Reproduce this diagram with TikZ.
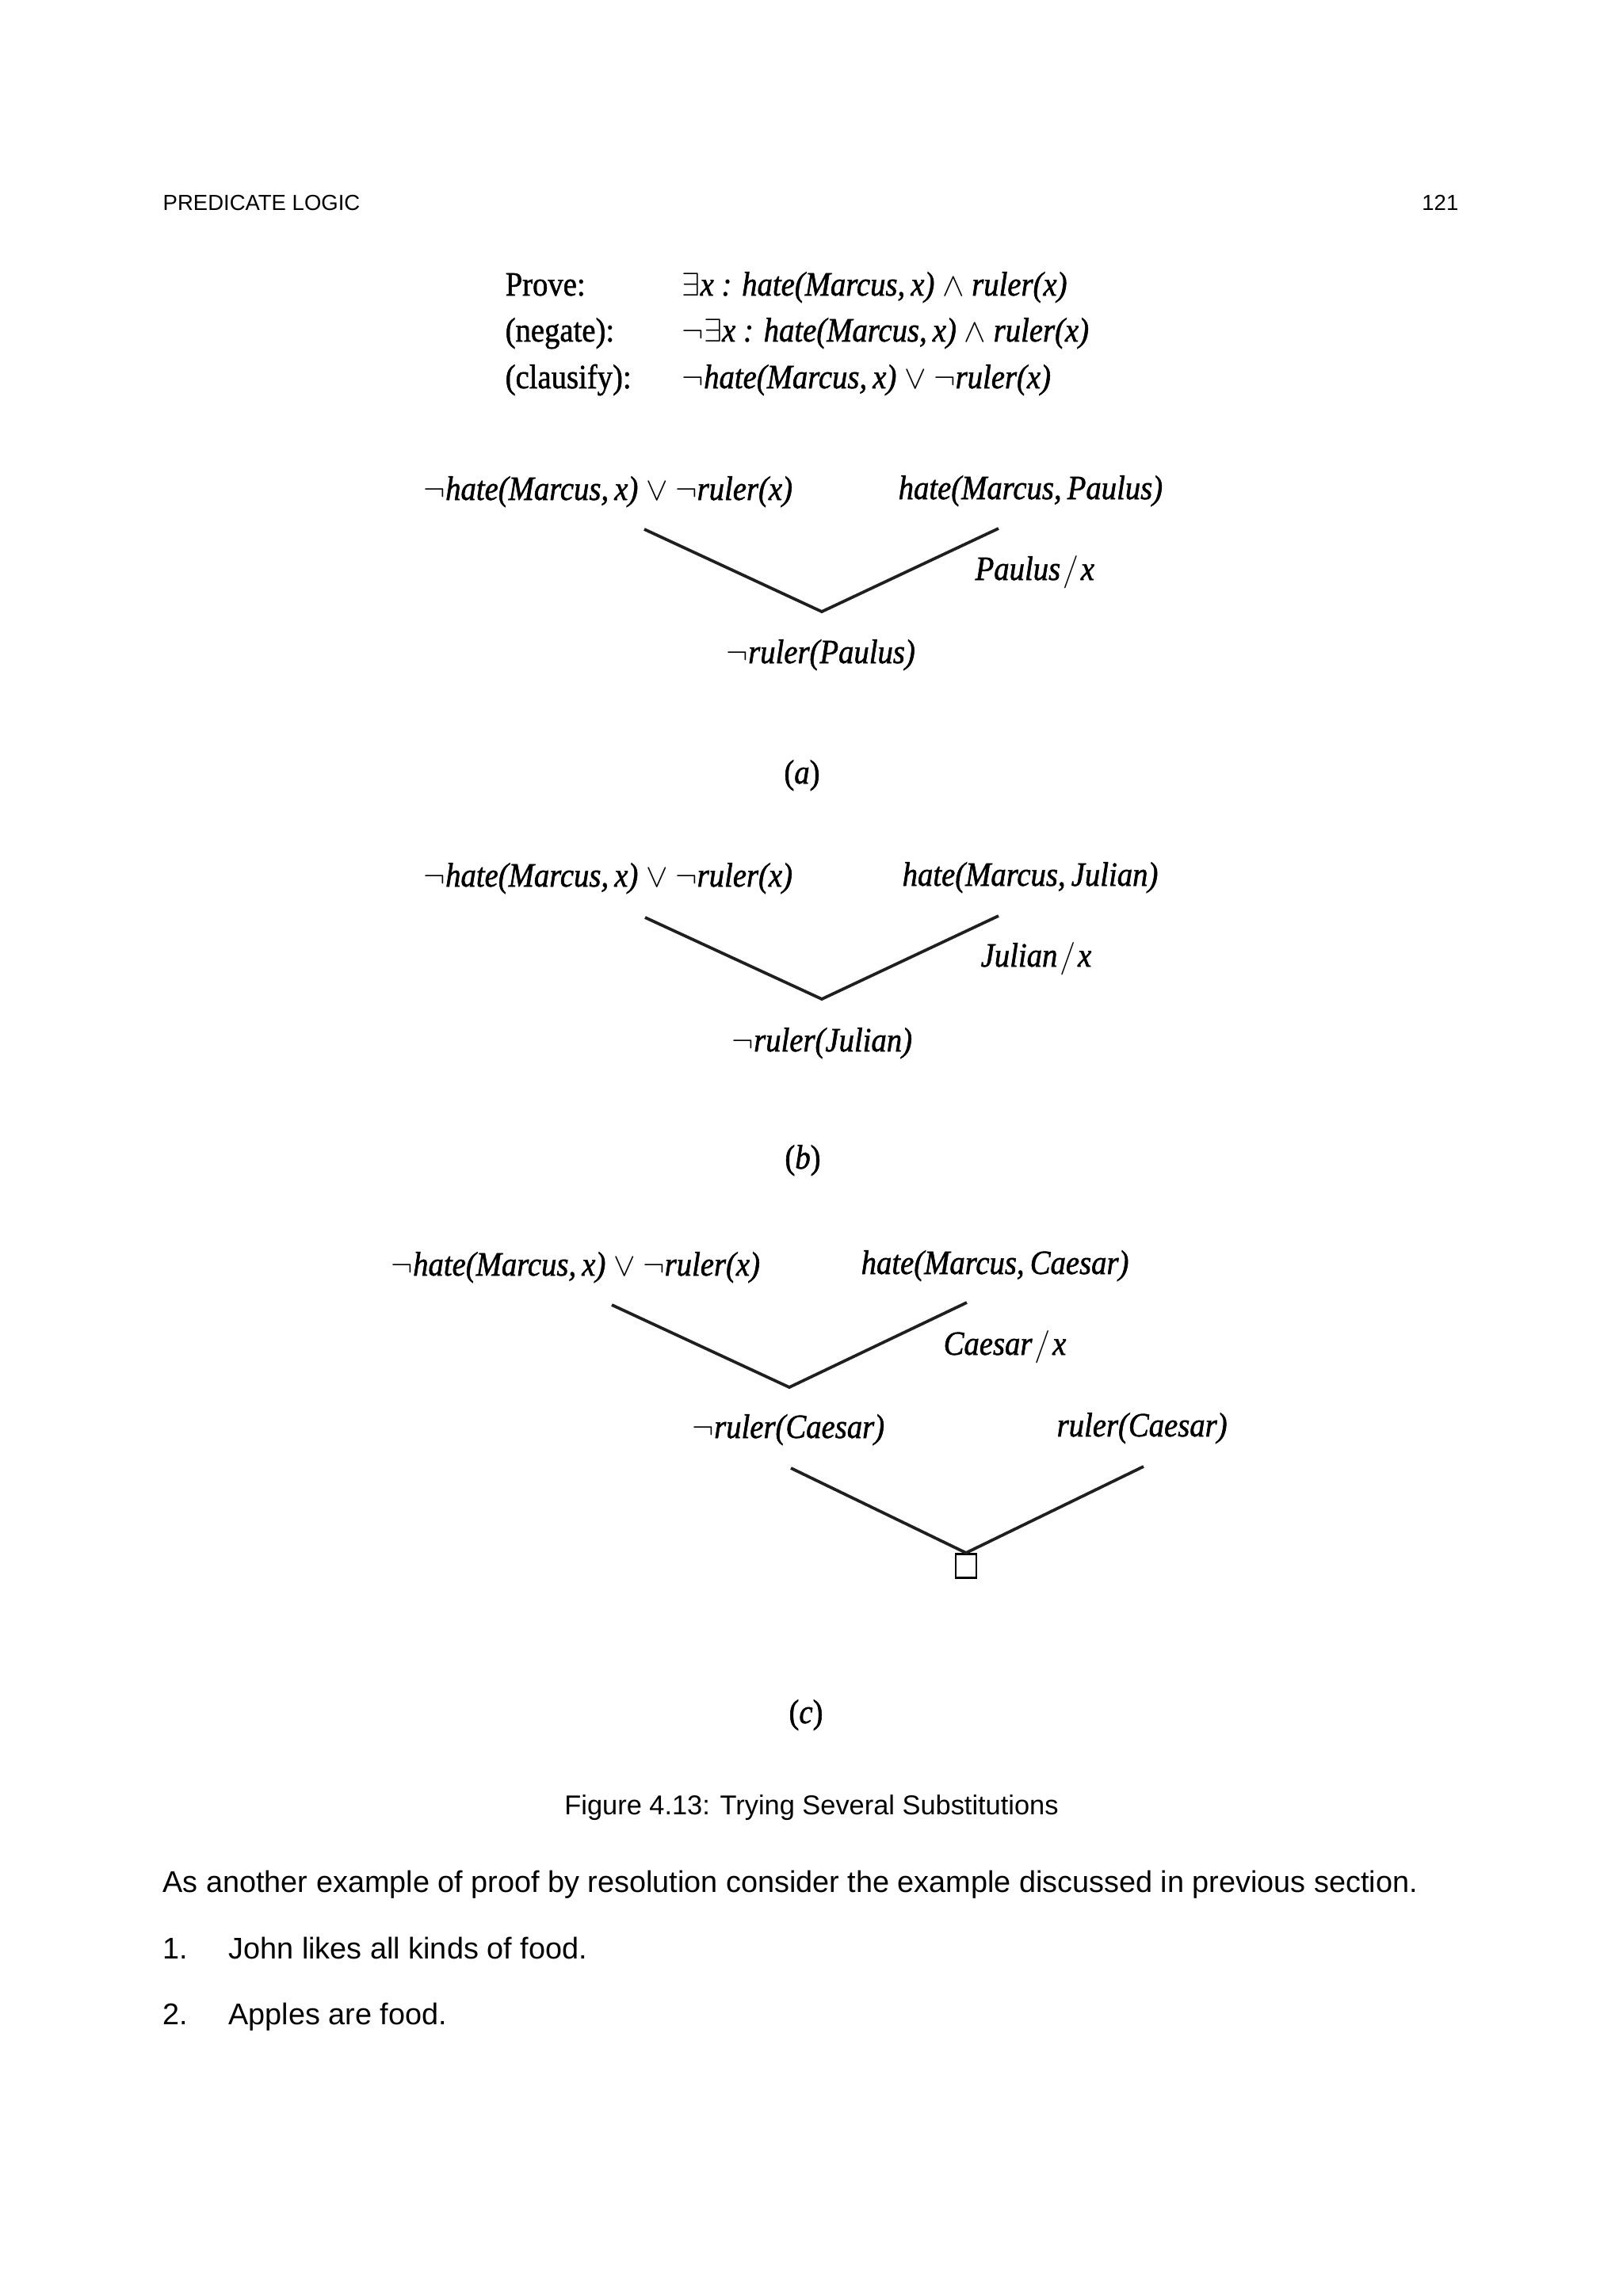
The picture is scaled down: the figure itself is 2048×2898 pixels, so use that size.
\documentclass[tikz,border=0pt]{standalone}
\usepackage{fontspec}
\setmainfont{Liberation Serif}
\newfontfamily\figfont[FakeStretch=0.9,FakeBold=1.2]{Liberation Serif}
\newfontfamily\pagefont{Liberation Sans}
\newcommand{\subsl}{\kern0.8pt$/$\kern0.8pt}
\begin{document}
\begin{tikzpicture}[x=0.2908pt,y=-0.2908pt,
  figit/.style={font=\figfont\fontsize{12.5}{15}\selectfont\itshape, inner sep=0pt, anchor=base west},
  figup/.style={font=\figfont\fontsize{12.5}{15}\selectfont, inner sep=0pt, anchor=base west},
  hdr/.style={font=\pagefont\fontsize{8}{10}\selectfont, inner sep=0pt, anchor=base west},
  captxt/.style={font=\pagefont\fontsize{10}{12}\selectfont, inner sep=0pt, anchor=base},
  bodytxt/.style={font=\pagefont\fontsize{11}{13}\selectfont, inner sep=0pt, anchor=base west},
  vline/.style={line width=1.1pt, black!88},
  emptybox/.style={draw, line width=0.8pt, minimum width=7.6pt, minimum height=8.7pt, inner sep=0pt, anchor=north}]
\useasboundingbox[fill=white] (0,0) rectangle (2048,2898);

% page header
\node[hdr] (hl) at (205,265) {PREDICATE LOGIC};
\node[hdr, anchor=base east] (hn) at (1841,265) {121};

% top block
\node[figup] (pr) at (637,373) {Prove:};
\node[figup] (ng) at (637,431) {(negate):};
\node[figup] (cl) at (637,490) {(clausify):};
\node[figit] (f1) at (860,373) {$\exists$x : hate(Marcus,\,x) $\wedge$ ruler(x)};
\node[figit] (f2) at (860,431) {$\neg\exists$x : hate(Marcus,\,x) $\wedge$ ruler(x)};
\node[figit] (f3) at (860,490) {$\neg$hate(Marcus,\,x) $\vee$ $\neg$ruler(x)};

% (a)
\node[figit] (a1) at (534,631) {$\neg$hate(Marcus,\,x) $\vee$ $\neg$ruler(x)};
\node[figit] (a2) at (1133,630) {hate(Marcus,\,Paulus)};
\coordinate (aL) at (813,668);
\coordinate (aV) at (1037,772);
\coordinate (aR) at (1260,667);
\draw[vline] (aL) -- (aV) -- (aR);
\node[figit] (as) at (1230,732) {Paulus\subsl x};
\node[figit] (ar) at (916,837) {$\neg$ruler(Paulus)};
\node[figup, anchor=base] (la) at (1012,989) {(\textit{a})};

% (b)
\node[figit] (b1) at (534,1119) {$\neg$hate(Marcus,\,x) $\vee$ $\neg$ruler(x)};
\node[figit] (b2) at (1138,1118) {hate(Marcus,\,Julian)};
\coordinate (bL) at (814,1158);
\coordinate (bV) at (1037,1261);
\coordinate (bR) at (1260,1156);
\draw[vline] (bL) -- (bV) -- (bR);
\node[figit] (bs) at (1237,1220) {Julian\subsl x};
\node[figit] (br) at (923,1327) {$\neg$ruler(Julian)};
\node[figup, anchor=base] (lb) at (1013,1475) {(\textit{b})};

% (c)
\node[figit] (c1) at (493,1610) {$\neg$hate(Marcus,\,x) $\vee$ $\neg$ruler(x)};
\node[figit] (c2) at (1086,1608) {hate(Marcus,\,Caesar)};
\coordinate (cL) at (772,1647);
\coordinate (cV) at (996,1751);
\coordinate (cR) at (1220,1644);
\draw[vline] (cL) -- (cV) -- (cR);
\node[figit] (cs) at (1190,1710) {Caesar\subsl x};
\node[figit] (cr) at (873,1815) {$\neg$ruler(Caesar)};
\node[figit] (cp) at (1333,1813) {ruler(Caesar)};
\coordinate (dL) at (998,1853);
\coordinate (dR) at (1443,1851);
\node[emptybox] (em) at (1219,1960) {};
\draw[vline] (dL) -- (em.north) -- (dR);
\node[figup, anchor=base] (lc) at (1017,2175) {(\textit{c})};

% caption and body
\node[captxt] (cap) at (1024,2290) {Figure 4.13: Trying Several Substitutions};
\node[bodytxt] (p1) at (205,2388) {As another example of proof by resolution consider the example discussed in previous section.};
\node[bodytxt] (n1) at (205,2472) {1.};
\node[bodytxt] (i1) at (288,2472) {John likes all kinds of food.};
\node[bodytxt] (n2) at (205,2555) {2.};
\node[bodytxt] (i2) at (288,2555) {Apples are food.};
\end{tikzpicture}
\end{document}
